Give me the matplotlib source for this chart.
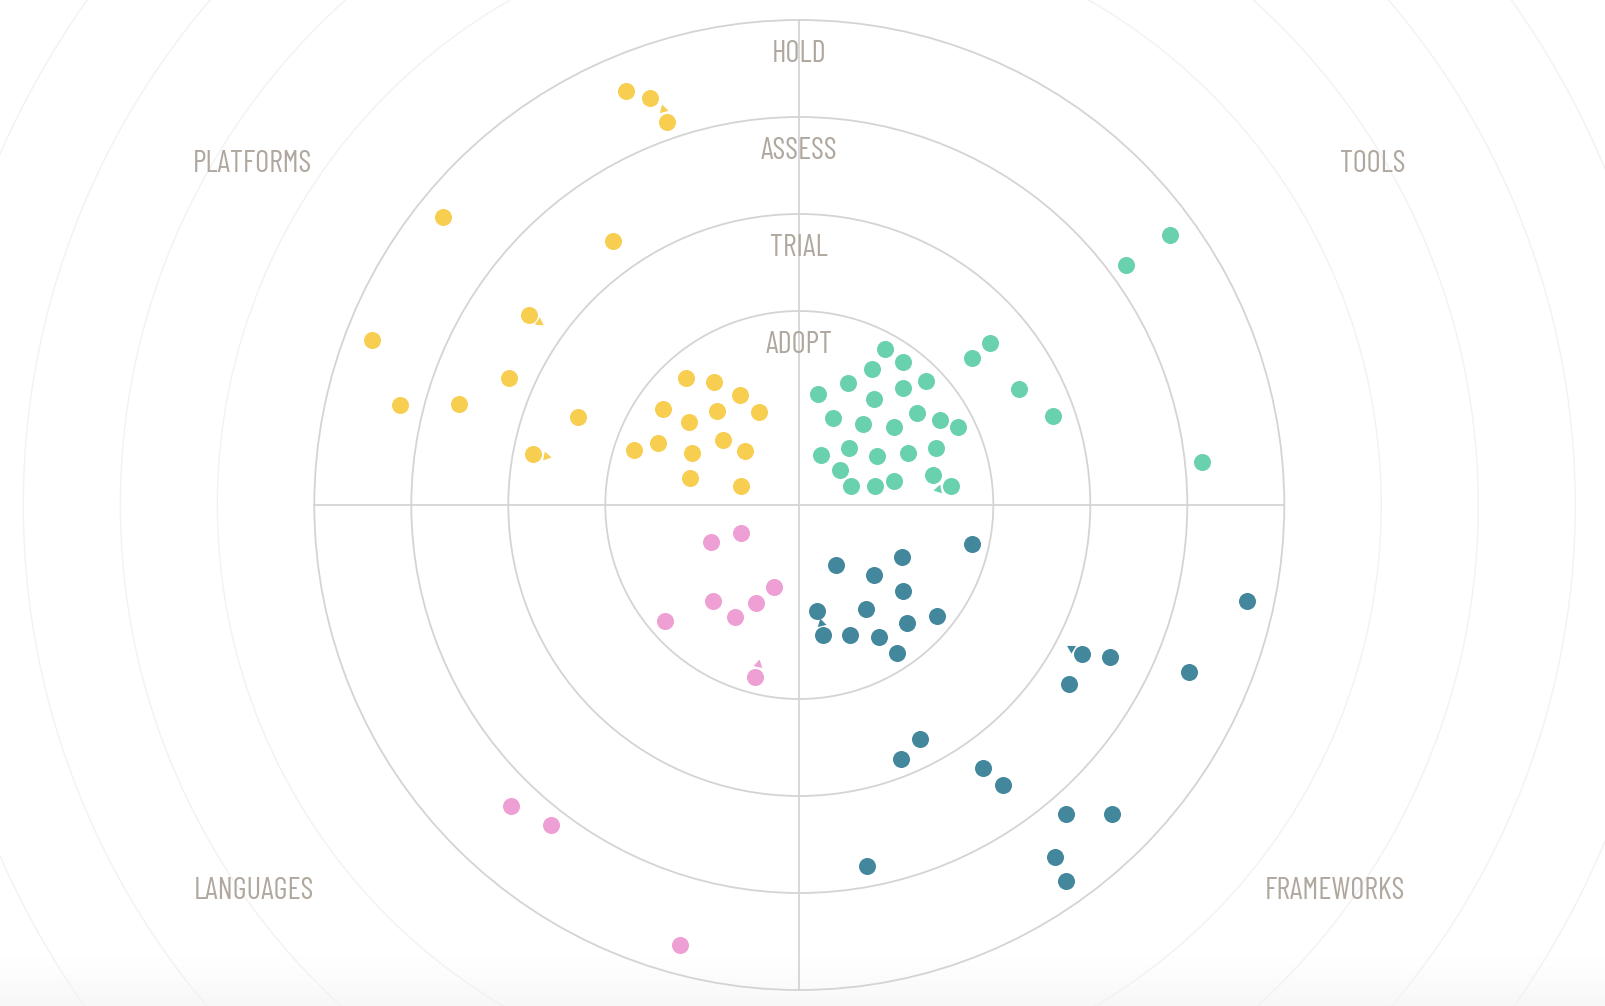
import numpy as np
import matplotlib.pyplot as plt
from matplotlib.patches import Circle

# radar geometry (pixel units, centre of the radar = 0,0)
RING_STEP = 97
rings = ['ADOPT', 'TRIAL', 'ASSESS', 'HOLD']
ring_radii = [2 * RING_STEP, 3 * RING_STEP, 4 * RING_STEP, 5 * RING_STEP]
faint_radii = [k * RING_STEP for k in range(6, 12)]

# blips, offsets from the centre (x right, y up)
platforms_x = [-113, -85, -59, -136, -82, -40, -110, -165, -141, -76, -107, -54, -109, -58,
               -173, -149, -132, -186, -356, -270, -427, -290, -399, -340, -266, -221]
platforms_y = [127, 123, 110, 96, 94, 93, 83, 55, 62, 65, 52, 54, 27, 19,
               414, 407, 383, 264, 288, 190, 165, 127, 100, 101, 51, 88]

tools_x = [86, 104, 73, 49, 19, 104, 127, 75, 34, 64, 95, 118, 141, 159, 22, 50, 78, 109, 137,
           41, 52, 76, 95, 134, 152, 173, 191, 220, 254, 327, 403, 371]
tools_y = [156, 143, 136, 122, 111, 117, 124, 106, 87, 81, 78, 92, 85, 78, 50, 57, 49, 52, 57,
           35, 19, 19, 24, 30, 19, 147, 162, 116, 89, 240, 43, 270]

frameworks_x = [173, 37, 103, 75, 104, 18, 67, 138, 108, 24, 51, 80, 98,
                283, 311, 270, 390, 448, 121, 102, 184, 204, 267, 313, 256, 267, 68]
frameworks_y = [-39, -60, -52, -70, -86, -106, -104, -111, -118, -130, -130, -132, -148,
                -149, -152, -179, -167, -96, -234, -254, -263, -280, -309, -309, -352, -376, -361]

languages_x = [-58, -88, -25, -86, -43, -64, -134, -44, -288, -248, -119]
languages_y = [-28, -37, -82, -96, -98, -112, -116, -172, -301, -320, -440]

# "moved" indicators: position and pointing angle (degrees)
moved_x = [-136, -260, -253, 139, 272, 22, -41]
moved_y = [396, 183, 49, 16, -143, -118, -159]
moved_angle = [15, -125, -100, 102, 60, 14, -13]
moved_color = ['#f7ce50', '#f7ce50', '#f7ce50', '#6ad1ae', '#43879c', '#43879c', '#ee9fd3']

colors = {'PLATFORMS': '#f7ce50', 'TOOLS': '#6ad1ae',
          'FRAMEWORKS': '#43879c', 'LANGUAGES': '#ee9fd3'}

label_color = '#b0a89e'
plt.rcParams['font.family'] = ['Barlow Condensed', 'Roboto Condensed', 'Oswald', 'DejaVu Sans']
FS = 22
FW = 'normal'

fig = plt.figure(figsize=(16.05, 10.06), dpi=100)
ax = fig.add_axes([0, 0, 1, 1])
ax.set_facecolor('white')

x0, x1, y0, y1 = -799.3, 805.7, -501, 505

# soft grey fade at the bottom edge
grad = np.linspace(1, 0, 60).reshape(-1, 1) ** 1.5
ax.imshow(grad, extent=[x0, x1, y0, y0 + 58], origin='lower', aspect='auto',
          cmap='Greys', vmin=0, vmax=15, zorder=0)

for r in faint_radii:
    ax.add_patch(Circle((0, 0), r, fill=False, ec='#f2f2f2', lw=1.0, zorder=1))
for r in ring_radii:
    ax.add_patch(Circle((0, 0), r, fill=False, ec='#d4d4d4', lw=1.3, zorder=1))
ax.plot([-ring_radii[-1], ring_radii[-1]], [0, 0], color='#d4d4d4', lw=1.3, zorder=1)
ax.plot([0, 0], [-ring_radii[-1], ring_radii[-1]], color='#d4d4d4', lw=1.3, zorder=1)

for name, r in zip(rings, ring_radii):
    ax.text(0, r - 34, name, ha='center', va='center', fontsize=FS, fontweight=FW,
            color=label_color, zorder=2)

for mx, my, ma, mc in zip(moved_x, moved_y, moved_angle, moved_color):
    ax.scatter(mx, my, s=55, marker=(3, 0, ma), color=mc, lw=0, zorder=3)

ax.scatter(platforms_x, platforms_y, s=150, color=colors['PLATFORMS'], lw=0, zorder=4)
ax.scatter(tools_x, tools_y, s=150, color=colors['TOOLS'], lw=0, zorder=4)
ax.scatter(frameworks_x, frameworks_y, s=150, color=colors['FRAMEWORKS'], lw=0, zorder=4)
ax.scatter(languages_x, languages_y, s=150, color=colors['LANGUAGES'], lw=0, zorder=4)

# quadrant names
ax.text(-606, 341, 'PLATFORMS', ha='left', va='center', fontsize=FS, fontweight=FW, color=label_color)
ax.text(606, 341, 'TOOLS', ha='right', va='center', fontsize=FS, fontweight=FW, color=label_color)
ax.text(-606, -386, 'LANGUAGES', ha='left', va='center', fontsize=FS, fontweight=FW, color=label_color)
ax.text(606, -386, 'FRAMEWORKS', ha='right', va='center', fontsize=FS, fontweight=FW, color=label_color)

ax.set_xlim(x0, x1)
ax.set_ylim(y0, y1)
ax.set_aspect('equal')
ax.axis('off')

fig.savefig('out.png', dpi=100)
